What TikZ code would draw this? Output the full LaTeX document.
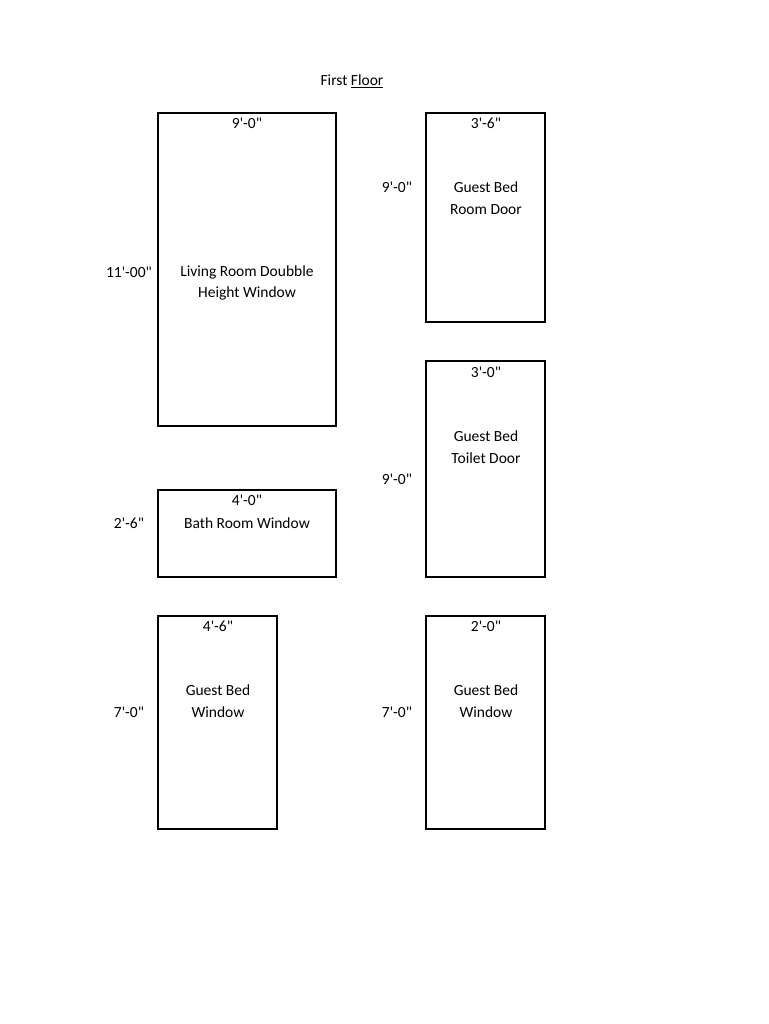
\documentclass[tikz,border=0pt]{standalone}
\usepackage{fontspec}
\setmainfont{Carlito}[Ligatures=TeXOff]
\begin{document}
\begin{tikzpicture}[x=1pt,y=-1pt,
  box/.style={draw=black,line width=1.8pt},
  lbl/.style={font=\fontsize{15.5}{21.5}\selectfont,align=center,inner sep=0pt}]
\useasboundingbox[fill=white] (0,0) rectangle (768,1024);
\node[lbl] (title) at (352,81) {First \underline{Floor}};
\draw[box] (158,113) rectangle (336,426) coordinate (r1);
\draw[box] (426,113) rectangle (545,322) coordinate (r2);
\draw[box] (426,361) rectangle (545,577) coordinate (r3);
\draw[box] (158,490) rectangle (336,577) coordinate (r4);
\draw[box] (158,616) rectangle (277,829) coordinate (r5);
\draw[box] (426,616) rectangle (545,829) coordinate (r6);
\node[lbl] (t1) at (247,123) {9'-0"};
\node[lbl] (t2) at (486,123) {3'-6"};
\node[lbl] (t3) at (486,372) {3'-0"};
\node[lbl] (t4) at (247,500) {4'-0"};
\node[lbl] (t5) at (218,626) {4'-6"};
\node[lbl] (t6) at (486,626) {2'-0"};
\node[lbl] (s1) at (129,272) {11'-00"};
\node[lbl] (s2) at (397,187) {9'-0"};
\node[lbl] (s3) at (397,479) {9'-0"};
\node[lbl] (s4) at (129,523) {2'-6"};
\node[lbl] (s5) at (129,712) {7'-0"};
\node[lbl] (s6) at (397,712) {7'-0"};
\node[lbl] (c1) at (247,283) {Living Room Doubble\\Height Window};
\node[lbl] (c2) at (486,198) {Guest Bed\\Room Door};
\node[lbl] (c3) at (486,447) {Guest Bed\\Toilet Door};
\node[lbl] (c4) at (247,523) {Bath Room Window};
\node[lbl] (c5) at (218,701) {Guest Bed\\Window};
\node[lbl] (c6) at (486,701) {Guest Bed\\Window};
\end{tikzpicture}
\end{document}
